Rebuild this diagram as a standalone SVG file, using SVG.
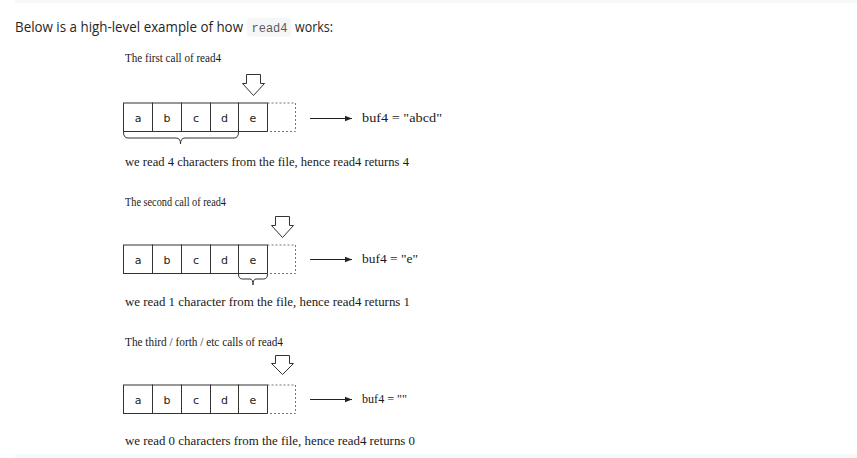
<svg xmlns="http://www.w3.org/2000/svg" width="857" height="458" viewBox="0 0 857 458">
<defs>
<style>
.hdr{font-family:"Open Sans","Liberation Sans",sans-serif;font-size:14px;fill:#262626}
.code{font-family:"Liberation Mono","DejaVu Sans Mono",monospace;font-size:12px;fill:#5a5a5a}
.ser{font-family:"Liberation Serif","Times New Roman",serif;font-size:12px;fill:#1a1a1a}
.ttl{font-size:11.5px}
.cell{fill:#fff;stroke:#333;stroke-width:1}
.dash{fill:none;stroke:#777;stroke-width:1;stroke-dasharray:2,2}
.let{font-family:"DejaVu Sans","Liberation Sans",sans-serif;font-size:11px;fill:#222;text-anchor:middle}
.harrow{fill:#fff;stroke:#333;stroke-width:1;stroke-linejoin:miter}
.brace{fill:none;stroke:#333;stroke-width:1}
.conn{stroke:#222;stroke-width:1;fill:none}
</style>
<marker id="ah" viewBox="0 0 10 10" refX="10" refY="5" markerWidth="7" markerHeight="7" markerUnits="userSpaceOnUse" orient="auto">
<path d="M0,1 L10,5 L0,9 Z" fill="#222"/>
</marker>
<g id="cells">
<rect class="cell" x="123.5" y="0.5" width="29" height="28.5"/>
<rect class="cell" x="152.5" y="0.5" width="29" height="28.5"/>
<rect class="cell" x="181.5" y="0.5" width="29" height="28.5"/>
<rect class="cell" x="210.5" y="0.5" width="28" height="28.5"/>
<rect class="cell" x="238.5" y="0.5" width="29" height="28.5"/>
<path class="dash" d="M267.5,0.5 H295.5 V29 H267.5"/>
<text class="let" x="138" y="19">a</text>
<text class="let" x="167" y="19">b</text>
<text class="let" x="196" y="19">c</text>
<text class="let" x="224.5" y="19">d</text>
<text class="let" x="253" y="19">e</text>
</g>
</defs>
<rect x="15" y="0" width="842" height="3" fill="#f7f8fa"/>
<rect x="15" y="454" width="842" height="4" fill="#f7f8fa"/>
<g id="header">
<text class="hdr" x="15" y="31.5" textLength="228" lengthAdjust="spacingAndGlyphs">Below is a high-level example of how</text>
<rect x="247" y="18" width="44" height="18.5" rx="3" fill="#f5f6f8"/>
<text class="code" x="251.5" y="31.5">read4</text>
<text class="hdr" x="295" y="31.5" textLength="38" lengthAdjust="spacingAndGlyphs">works:</text>
</g>
<g id="call1">
<text class="ser ttl" x="125" y="62" textLength="96" lengthAdjust="spacingAndGlyphs">The first call of read4</text>
<path class="harrow" d="M246.5,74.5 H260.5 V83.5 H264.5 L253.5,95.5 L242.5,83.5 H246.5 Z"/>
<use href="#cells" x="0" y="102.5"/>
<path class="brace" d="M123.5,132 Q123.5,138 128,138 H176 Q180.5,138 180.5,144 Q180.5,138 185,138 H234 Q238.5,138 238.5,132"/>
<text class="ser" x="125" y="166" textLength="284" lengthAdjust="spacingAndGlyphs">we read 4 characters from the file, hence read4 returns 4</text>
</g>
<g id="call2">
<text class="ser ttl" x="125" y="206" textLength="101" lengthAdjust="spacingAndGlyphs">The second call of read4</text>
<path class="harrow" d="M275.5,216.5 H289.5 V225.5 H293.5 L282.5,237.5 L271.5,225.5 H275.5 Z"/>
<use href="#cells" x="0" y="244.5"/>
<path class="brace" d="M238.5,274 Q238.5,279 242.5,279 H250 Q253,279 253,285 Q253,279 256,279 H263.5 Q267.5,279 267.5,274"/>
<text class="ser" x="125" y="306" textLength="285" lengthAdjust="spacingAndGlyphs">we read 1 character from the file, hence read4 returns 1</text>
</g>
<g id="call3">
<text class="ser ttl" x="125" y="346" textLength="158" lengthAdjust="spacingAndGlyphs">The third / forth / etc calls of read4</text>
<path class="harrow" d="M275.5,355.5 H289.5 V363.5 H293.5 L282.5,374.5 L271.5,363.5 H275.5 Z"/>
<use href="#cells" x="0" y="384.5"/>
<text class="ser" x="125" y="445" textLength="290" lengthAdjust="spacingAndGlyphs">we read 0 characters from the file, hence read4 returns 0</text>
</g>
<g id="connectors">
<line class="conn" x1="310" y1="118.5" x2="352" y2="118.5" marker-end="url(#ah)"/>
<line class="conn" x1="310" y1="259.5" x2="352" y2="259.5" marker-end="url(#ah)"/>
<line class="conn" x1="310" y1="399.5" x2="352" y2="399.5" marker-end="url(#ah)"/>
</g>
<g id="results">
<text class="ser" x="362" y="122" textLength="80" lengthAdjust="spacingAndGlyphs">buf4 = "abcd"</text>
<text class="ser" x="362" y="263" textLength="56" lengthAdjust="spacingAndGlyphs">buf4 = "e"</text>
<text class="ser" x="362" y="403" textLength="45" lengthAdjust="spacingAndGlyphs">buf4 = ""</text>
</g>
</svg>
